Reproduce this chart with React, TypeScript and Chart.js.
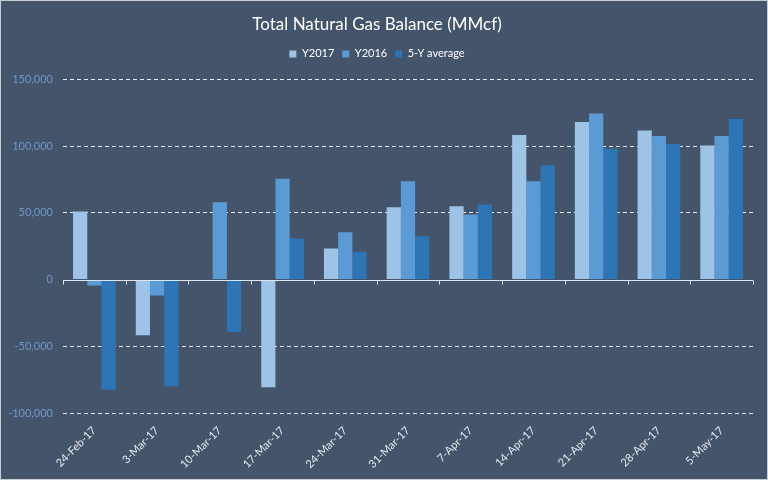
import React, { useEffect, useRef } from "react";
import { Chart, registerables } from "chart.js";

Chart.register(...registerables);

const categories = [
  "24-Feb-17", "3-Mar-17", "10-Mar-17", "17-Mar-17", "24-Mar-17", "31-Mar-17",
  "7-Apr-17", "14-Apr-17", "21-Apr-17", "28-Apr-17", "5-May-17",
];
const seriesNames = ["Y2017", "Y2016", "5-Y average"];
const y2017 = [51000, -41750, 0, -80750, 23250, 54250, 55000, 108250, 118000, 111750, 100500];
const y2016 = [-4500, -12000, 58000, 75500, 35500, 73750, 48750, 73750, 124500, 107500, 107500];
const avg5 = [-82500, -80000, -39250, 30750, 20750, 32500, 56250, 85750, 98250, 101500, 120250];
const yMin = -100000;
const yMax = 150000;
const yStep = 50000;

const BG = "#44546a";
const COLORS = ["#9dc3e6", "#5b9bd5", "#2e75b6"];
const FONT = "Lato, 'Liberation Sans', sans-serif";

const zeroLinePlugin = {
  id: "zeroLine",
  afterDatasetsDraw(chart: any) {
    const { ctx, scales } = chart;
    const x = scales.x;
    const y = scales.y;
    const y0 = Math.round(y.getPixelForValue(0)) + 0.5;
    ctx.save();
    ctx.strokeStyle = "#dce6f2";
    ctx.lineWidth = 1;
    ctx.beginPath();
    ctx.moveTo(x.left, y0);
    ctx.lineTo(x.right, y0);
    const n = categories.length;
    for (let i = 0; i <= n; i++) {
      const px = Math.round(x.left + (i * (x.right - x.left)) / n) + 0.5;
      ctx.moveTo(px, y0);
      ctx.lineTo(px, y0 + 4);
    }
    ctx.stroke();
    ctx.restore();
  },
};

const legendGapPlugin = {
  id: "legendGap",
  beforeInit(chart: any) {
    const orig = chart.legend.fit;
    chart.legend.fit = function () {
      orig.bind(chart.legend)();
      this.height += 10;
    };
  },
};

export default function App() {
  const ref = useRef<HTMLCanvasElement | null>(null);
  useEffect(() => {
    if (!ref.current) return;
    const chart = new Chart(ref.current, {
      type: "bar",
      data: {
        labels: categories,
        datasets: [
          { label: seriesNames[0], data: y2017, backgroundColor: COLORS[0] },
          { label: seriesNames[1], data: y2016, backgroundColor: COLORS[1] },
          { label: seriesNames[2], data: avg5, backgroundColor: COLORS[2] },
        ],
      },
      plugins: [zeroLinePlugin, legendGapPlugin],
      options: {
        animation: false,
        responsive: false,
        maintainAspectRatio: false,
        layout: { padding: { left: 0, right: 14, top: 0, bottom: 0 } },
        datasets: {
          bar: { categoryPercentage: 0.68, barPercentage: 1.0 },
        },
        plugins: {
          title: {
            display: true,
            text: "Total Natural Gas Balance (MMcf)",
            color: "#ffffff",
            font: { family: FONT, size: 17, weight: "normal" },
            padding: { top: 13, bottom: 6 },
          },
          legend: {
            display: true,
            position: "top",
            labels: {
              color: "#ffffff",
              font: { family: FONT, size: 11 },
              boxWidth: 7,
              boxHeight: 7,
              padding: 8,
            },
          },
          tooltip: { enabled: false },
        },
        scales: {
          x: {
            grid: { display: false },
            border: { display: false },
            ticks: {
              color: "#e6e9ee",
              font: { family: FONT, size: 11 },
              maxRotation: 45,
              minRotation: 45,
              autoSkip: false,
            },
            afterFit(scale: any) {
              scale.height = 66;
            },
          },
          y: {
            min: yMin,
            max: yMax,
            ticks: {
              stepSize: yStep,
              color: "#6f97c9",
              font: { family: FONT, size: 11 },
              padding: 10,
              callback: (v: any) => Number(v).toLocaleString("en-US"),
            },
            grid: {
              drawTicks: false,
              color: (c: any) => (c.tick && c.tick.value === 0 ? "rgba(0,0,0,0)" : "#e8ecf2"),
              lineWidth: 1,
            },
            border: { display: false, dash: [4, 3] },
            afterFit(scale: any) {
              scale.width = 62;
            },
          },
        },
      },
    });
    return () => chart.destroy();
  }, []);
  return (
    <div
      style={{
        position: "fixed",
        left: 0,
        top: 0,
        width: 768,
        height: 480,
        boxSizing: "border-box",
        border: "1px solid #c9ced6",
        background: BG,
      }}
    >
      <canvas ref={ref} width={766} height={478} style={{ display: "block" }} />
    </div>
  );
}
